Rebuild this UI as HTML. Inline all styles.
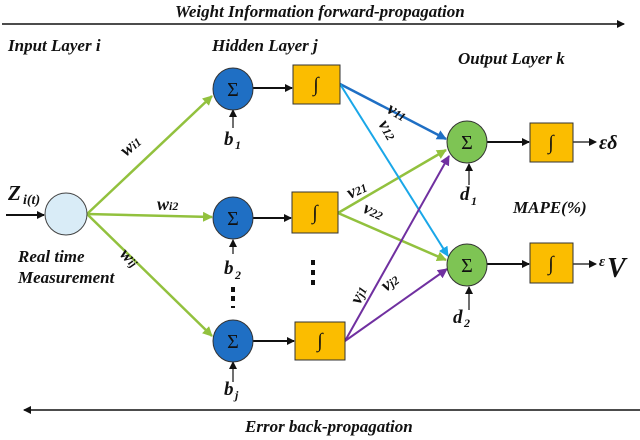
<!DOCTYPE html>
<html><head><meta charset="utf-8"><style>
html,body{margin:0;padding:0;background:#fff;}
svg{display:block;}
text{font-family:"Liberation Serif",serif;font-weight:bold;font-style:italic;fill:#111;}
.s{font-style:normal;font-weight:normal;font-size:20px;}
</style></head><body>
<svg width="640" height="440" viewBox="0 0 640 440" xmlns="http://www.w3.org/2000/svg">
<defs>
<marker id="ak" markerWidth="8" markerHeight="8" refX="7" refY="4" orient="auto" markerUnits="userSpaceOnUse"><path d="M0,0 L8,4 L0,8z" fill="#111"/></marker>
<marker id="ag" markerWidth="10" markerHeight="10" refX="9" refY="5" orient="auto" markerUnits="userSpaceOnUse"><path d="M0,0 L10,5 L0,10z" fill="#92c13e"/></marker>
<marker id="ab" markerWidth="10" markerHeight="10" refX="9" refY="5" orient="auto" markerUnits="userSpaceOnUse"><path d="M0,0 L10,5 L0,10z" fill="#1f6fc4"/></marker>
<marker id="ac" markerWidth="10" markerHeight="10" refX="9" refY="5" orient="auto" markerUnits="userSpaceOnUse"><path d="M0,0 L10,5 L0,10z" fill="#1aa7e8"/></marker>
<marker id="ap" markerWidth="10" markerHeight="10" refX="9" refY="5" orient="auto" markerUnits="userSpaceOnUse"><path d="M0,0 L10,5 L0,10z" fill="#7030a0"/></marker>
</defs>
<text x="175" y="17" font-size="17">Weight Information forward-propagation</text>
<line x1="2" y1="24" x2="624" y2="24" stroke="#111" stroke-width="1.5" marker-end="url(#ak)"/>
<line x1="640" y1="410" x2="24" y2="410" stroke="#111" stroke-width="1.5" marker-end="url(#ak)"/>
<text x="245" y="432" font-size="17">Error back-propagation</text>
<text x="8" y="51" font-size="17">Input Layer i</text>
<text x="212" y="51" font-size="17">Hidden Layer j</text>
<text x="458" y="64" font-size="17">Output Layer k</text>
<text x="513" y="213" font-size="17">MAPE(%)</text>
<text x="18" y="262" font-size="17">Real time</text>
<text x="18" y="283" font-size="17">Measurement</text>
<g stroke="#92c13e" stroke-width="2.5" fill="none">
<line x1="87" y1="214" x2="212" y2="96" marker-end="url(#ag)"/>
<line x1="87" y1="214" x2="212" y2="217" marker-end="url(#ag)"/>
<line x1="87" y1="214" x2="212" y2="336" marker-end="url(#ag)"/>
<line x1="338" y1="213" x2="446" y2="150" marker-end="url(#ag)"/>
<line x1="338" y1="213" x2="446" y2="260" marker-end="url(#ag)"/>
</g>
<line x1="340" y1="84" x2="446" y2="139" stroke="#1f6fc4" stroke-width="2.5" marker-end="url(#ab)"/>
<line x1="340" y1="84" x2="448" y2="256" stroke="#1aa7e8" stroke-width="2" marker-end="url(#ac)"/>
<line x1="345" y1="341" x2="449" y2="156" stroke="#7030a0" stroke-width="2" marker-end="url(#ap)"/>
<line x1="345" y1="341" x2="447" y2="269" stroke="#7030a0" stroke-width="2" marker-end="url(#ap)"/>
<g stroke="#111" stroke-width="2" marker-end="url(#ak)">
<line x1="6" y1="215" x2="44" y2="215"/>
<line x1="253" y1="88" x2="292" y2="88"/>
<line x1="253" y1="218" x2="291" y2="218"/>
<line x1="253" y1="341" x2="294" y2="341"/>
<line x1="487" y1="142" x2="529" y2="142"/>
<line x1="487" y1="264" x2="529" y2="264"/>
</g>
<g stroke="#111" stroke-width="1.2" marker-end="url(#ak)">
<line x1="233" y1="128" x2="233" y2="110"/>
<line x1="233" y1="254" x2="233" y2="240"/>
<line x1="233" y1="382" x2="233" y2="362"/>
<line x1="469" y1="185" x2="469" y2="164"/>
<line x1="469" y1="310" x2="469" y2="287"/>
<line x1="573" y1="142" x2="596" y2="142"/>
<line x1="573" y1="264" x2="596" y2="264"/>
</g>
<ellipse cx="66" cy="214" rx="21" ry="21" fill="#d9ecf7" stroke="#444" stroke-width="1"/>
<g fill="#1f6fc4" stroke="#333" stroke-width="1">
<ellipse cx="233" cy="89" rx="20" ry="21"/>
<ellipse cx="233" cy="218" rx="20" ry="21"/>
<ellipse cx="233" cy="341" rx="20" ry="21"/>
</g>
<g fill="#7ec454" stroke="#333" stroke-width="1">
<ellipse cx="467" cy="142" rx="20" ry="21"/>
<ellipse cx="467" cy="265" rx="20" ry="21"/>
</g>
<g fill="#fbbd00" stroke="#333" stroke-width="1">
<rect x="293" y="65" width="47" height="39"/>
<rect x="292" y="192" width="46" height="41"/>
<rect x="295" y="322" width="50" height="38"/>
<rect x="530" y="123" width="43" height="39"/>
<rect x="530" y="243" width="43" height="40"/>
</g>
<text class="s" text-anchor="middle" x="233" y="96">Σ</text><text class="s" text-anchor="middle" x="233" y="225">Σ</text><text class="s" text-anchor="middle" x="233" y="348">Σ</text>
<text class="s" text-anchor="middle" x="467" y="149">Σ</text><text class="s" text-anchor="middle" x="467" y="272">Σ</text>
<text class="s" text-anchor="middle" x="316" y="91">∫</text><text class="s" text-anchor="middle" x="315" y="219">∫</text><text class="s" text-anchor="middle" x="320" y="347">∫</text>
<text class="s" text-anchor="middle" x="551" y="149">∫</text><text class="s" text-anchor="middle" x="551" y="270">∫</text>
<g fill="#111"><rect x="311" y="260" width="4" height="5"/><rect x="311" y="270" width="4" height="5"/><rect x="311" y="280" width="4" height="5"/>
<rect x="231" y="287" width="4" height="5"/><rect x="231" y="296" width="4" height="5"/><rect x="231" y="306" width="4" height="2"/></g>
<text x="8" y="200" font-size="21" font-style="normal">Z</text><text x="23" y="204" font-size="14" font-style="normal">i(t)</text>
<text x="224" y="145" font-size="19" font-style="normal">b</text><text x="235" y="149" font-size="12" font-style="normal">1</text>
<text x="224" y="274" font-size="19" font-style="normal">b</text><text x="235" y="279" font-size="12" font-style="normal">2</text>
<text x="224" y="395" font-size="19" font-style="normal">b</text><text x="235" y="399" font-size="12" font-style="normal">j</text>
<text x="460" y="200" font-size="19" font-style="normal">d</text><text x="471" y="205" font-size="12" font-style="normal">1</text>
<text x="453" y="323" font-size="19" font-style="normal">d</text><text x="464" y="327" font-size="12" font-style="normal">2</text>
<text x="157" y="210" font-size="18">w<tspan font-size="12">i2</tspan></text>
<text transform="translate(126,157) rotate(-40)" font-size="18">w<tspan font-size="12">i1</tspan></text>
<text transform="translate(119,255) rotate(45)" font-size="18">w<tspan font-size="12">ij</tspan></text>
<text transform="translate(386,112) rotate(30)" font-size="18">v<tspan font-size="12">11</tspan></text>
<text transform="translate(378,124) rotate(60)" font-size="18">v<tspan font-size="12">12</tspan></text>
<text transform="translate(350,199) rotate(-25)" font-size="18">v<tspan font-size="12">21</tspan></text>
<text transform="translate(362,212) rotate(25)" font-size="18">v<tspan font-size="12">22</tspan></text>
<text transform="translate(360,305) rotate(-65)" font-size="18">v<tspan font-size="12">j1</tspan></text>
<text transform="translate(386,292) rotate(-35)" font-size="18">v<tspan font-size="12">j2</tspan></text>
<text x="599" y="149" font-size="20" font-style="normal" font-weight="normal">εδ</text>
<text x="599" y="266" font-size="15" font-style="normal" font-weight="normal">ε</text><text x="607" y="277" font-size="28" font-weight="normal">V</text>
</svg>
</body></html>
